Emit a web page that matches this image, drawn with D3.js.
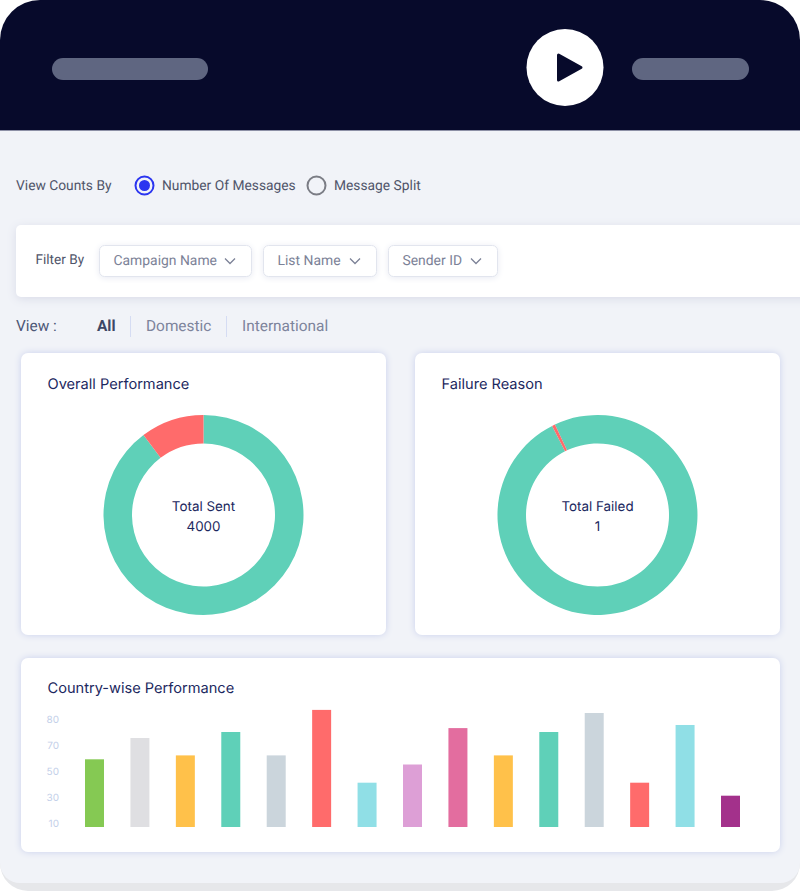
<!DOCTYPE html>
<html>
<head>
<meta charset="utf-8">
<script src="https://cdn.jsdelivr.net/npm/d3@7"></script>
<style>
  html, body { margin: 0; padding: 0; background: #fff; }
  svg { display: block; }
  text { font-family: Roboto, sans-serif; text-rendering: geometricPrecision; }
  .title, .center { font-family: Inter, sans-serif; fill: #1c2860; }
</style>
</head>
<body>
<svg id="chart" width="800" height="891"></svg>
<script>
// values
var overallValues = [3590, 410];
var failureValues = [99.5, 0.5];
var donutColors = ['#5fd0b8', '#ff6b6b'];

var barValues = [59, 72.7, 62, 75, 62, 83.5, 41, 55, 76.5, 62, 75, 82.3, 41, 77.7, 31];
var barColors = ['#85c953', '#dfdfe2', '#ffc14a', '#5fd0b8', '#cbd5dc', '#ff6b6b', '#90dfe6', '#dd9fd6',
  '#e36d9f', '#ffc14a', '#5fd0b8', '#cbd5dc', '#ff6b6b', '#90dfe6', '#a3318b'];
var yTicks = [10, 30, 50, 70, 80];

var radioLabels = ['Number Of Messages', 'Message Split'];
var filterLabels = ['Campaign Name', 'List Name', 'Sender ID'];
var viewLabels = ['All', 'Domestic', 'International'];

var svg = d3.select('#chart');
var defs = svg.append('defs');

function addShadow(id, color, blur, dy) {
  defs.append('filter')
      .attr('id', id)
      .attr('x', '-10%').attr('y', '-20%').attr('width', '120%').attr('height', '140%')
    .append('feDropShadow')
      .attr('dx', 0).attr('dy', dy)
      .attr('stdDeviation', blur)
      .attr('flood-color', color);
}
addShadow('cardShadow', '#c9d0ec', 3.5, 0);
addShadow('barShadow', '#d9dce8', 5, 2);
addShadow('boxShadow', '#e8eaf3', 3, 1);

// window frame: grey strip at the bottom, then the page, then the dark header
svg.append('path').attr('fill', '#e6e7ea').attr('d', roundedBottom(0, 800, 860, 891, 28));
svg.append('path').attr('fill', '#f1f3f8').attr('d', roundedBottom(0, 800, 100, 883, 20));
svg.append('path').attr('fill', '#070a2b')
    .attr('d', 'M0,130V40A40,40 0 0 1 40,0H760A40,40 0 0 1 800,40V130Z');
svg.append('rect').attr('x', 0).attr('y', 130).attr('width', 800).attr('height', 1).attr('fill', '#8d90a6');

function roundedBottom(x0, x1, y0, y1, r) {
  return 'M' + x0 + ',' + y0 + 'V' + (y1 - r) + 'A' + r + ',' + r + ' 0 0 0 ' + (x0 + r) + ',' + y1 +
      'H' + (x1 - r) + 'A' + r + ',' + r + ' 0 0 0 ' + x1 + ',' + (y1 - r) + 'V' + y0 + 'Z';
}

// header
[[52, 156], [632, 117]].forEach(function(p) {
  svg.append('rect').attr('x', p[0]).attr('y', 58).attr('width', p[1]).attr('height', 22)
      .attr('rx', 11).attr('fill', '#5f6681');
});
svg.append('circle').attr('cx', 565).attr('cy', 67.5).attr('r', 38.5).attr('fill', '#fff');
svg.append('path')
    .attr('d', 'M558.5,55L581,67.5L558.5,80Z')
    .attr('fill', '#070a2b').attr('stroke', '#070a2b').attr('stroke-width', 3).attr('stroke-linejoin', 'round');

// view counts row
svg.append('text').attr('x', 16).attr('y', 190).attr('font-size', 13.8).attr('fill', '#50556a').text('View Counts By');
svg.append('circle').attr('cx', 144.5).attr('cy', 185.5).attr('r', 9).attr('fill', 'none').attr('stroke', '#2b35f0').attr('stroke-width', 2);
svg.append('circle').attr('cx', 144.5).attr('cy', 185.5).attr('r', 5.5).attr('fill', '#2b35f0');
svg.append('text').attr('x', 162).attr('y', 190).attr('font-size', 13.8).attr('fill', '#50556a').text(radioLabels[0]);
svg.append('circle').attr('cx', 316.5).attr('cy', 185.5).attr('r', 9).attr('fill', 'none').attr('stroke', '#7b7d85').attr('stroke-width', 2);
svg.append('text').attr('x', 334).attr('y', 190).attr('font-size', 13.8).attr('fill', '#50556a').text(radioLabels[1]);

// filter bar
svg.append('rect').attr('x', 16).attr('y', 225).attr('width', 800).attr('height', 72).attr('rx', 5)
    .attr('fill', '#fff').attr('filter', 'url(#barShadow)');
svg.append('text').attr('x', 35.5).attr('y', 264).attr('font-size', 13.6).attr('fill', '#50556a').text('Filter By');

var filterBoxes = [[99, 153], [263, 114], [388, 110]];
svg.selectAll('g.filter')
    .data(filterLabels)
    .join('g')
    .attr('class', 'filter')
    .attr('transform', function(d, i) { return 'translate(' + filterBoxes[i][0] + ',245)'; })
    .each(function(d, i) {
      var g = d3.select(this);
      var w = filterBoxes[i][1];
      g.append('rect').attr('x', 0.5).attr('y', 0.5).attr('width', w - 1).attr('height', 31).attr('rx', 5)
          .attr('fill', '#fff').attr('stroke', '#e2e5ee').attr('filter', 'url(#boxShadow)');
      g.append('text').attr('x', 14.5).attr('y', 20).attr('font-size', 13.9).attr('fill', '#7c8297').text(d);
      g.append('path').attr('d', 'M' + (w - 27) + ',13.5l5,5l5,-5')
          .attr('fill', 'none').attr('stroke', '#7c8297').attr('stroke-width', 1.3);
    });

// view tabs
svg.append('text').attr('x', 16).attr('y', 331).attr('font-size', 15.4).attr('fill', '#4d5877').text('View :');
var viewX = [97, 146, 242];
viewLabels.forEach(function(label, i) {
  svg.append('text').attr('x', viewX[i]).attr('y', 331).attr('font-size', 15.4)
      .attr('font-weight', i === 0 ? 700 : 400)
      .attr('fill', i === 0 ? '#3d4766' : '#7d849c')
      .text(label);
});
[130.5, 226.5].forEach(function(x) {
  svg.append('line').attr('x1', x).attr('x2', x).attr('y1', 316).attr('y2', 337).attr('stroke', '#d5dcf3');
});

// cards
function card(x, y, w, h, title, titleY) {
  svg.append('rect').attr('x', x).attr('y', y).attr('width', w).attr('height', h).attr('rx', 7)
      .attr('fill', '#fff').attr('filter', 'url(#cardShadow)');
  svg.append('text').attr('class', 'title').attr('x', x + 26.5).attr('y', y + titleY).attr('font-size', 14.6).text(title);
}
card(21, 353, 365, 282, 'Overall Performance', 36);
card(415, 353, 365, 282, 'Failure Reason', 36);
card(21, 658, 759, 194, 'Country-wise Performance', 34.5);

// donuts
var arc = d3.arc().innerRadius(71.5).outerRadius(100);

function donut(cx, cy, values, rotation, label, total) {
  var pie = d3.pie().sort(null).startAngle(rotation).endAngle(rotation + 2 * Math.PI);
  var g = svg.append('g').attr('transform', 'translate(' + cx + ',' + cy + ')');
  g.selectAll('path')
      .data(pie(values))
      .join('path')
      .attr('d', arc)
      .attr('fill', function(d, i) { return donutColors[i]; });
  g.append('text').attr('class', 'center').attr('text-anchor', 'middle').attr('y', -4).attr('font-size', 13.4).text(label);
  g.append('text').attr('class', 'center').attr('text-anchor', 'middle').attr('y', 15.5).attr('font-size', 13.4).text(total);
}
donut(203.5, 515, overallValues, 0, 'Total Sent', '4000');
donut(597.5, 515, failureValues, -0.44, 'Total Failed', '1');

// bars: the tick labels are evenly spaced but not evenly valued, so the scale is piecewise
var x = d3.scaleBand().domain(d3.range(barValues.length)).range([85, 740]).paddingInner(0.582).paddingOuter(0);
var y = d3.scaleLinear().domain(yTicks).range([823, 797, 771, 745, 719]);
var barBottom = 827;

var yAxis = d3.axisLeft(y).tickValues(yTicks).tickSize(0).tickPadding(0);
var axisG = svg.append('g').attr('transform', 'translate(59,0)').call(yAxis);
axisG.select('.domain').remove();
axisG.selectAll('text')
    .attr('font-size', 10)
    .attr('fill', '#c3cfe9')
    .style('font-family', 'Inter, sans-serif');

svg.selectAll('rect.bar')
    .data(barValues)
    .join('rect')
    .attr('class', 'bar')
    .attr('x', function(d, i) { return x(i); })
    .attr('y', function(d) { return y(d); })
    .attr('width', x.bandwidth())
    .attr('height', function(d) { return barBottom - y(d); })
    .attr('fill', function(d, i) { return barColors[i]; });
</script>
</body>
</html>
